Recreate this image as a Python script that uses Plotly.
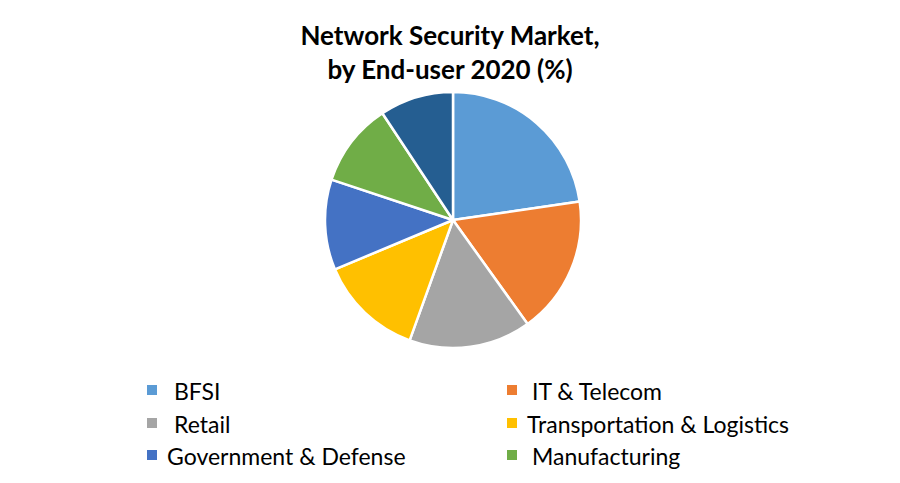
import plotly.graph_objects as go

# page body has an 8px margin, so the figure is drawn 8px in from the top-left
OFF = 8
W, H = 900 - OFF, 483 - OFF

labels = ["BFSI", "IT & Telecom", "Retail", "Transportation & Logistics",
          "Government & Defense", "Manufacturing", "Others"]
values = [22.7, 17.4, 15.4, 13.2, 11.4, 10.6, 9.3]
colors = ["#5B9BD5", "#ED7D31", "#A5A5A5", "#FFC000", "#4472C4", "#70AD47", "#255E91"]

legend_labels = labels[:6]


def px(x):
    return (x - OFF) / W


def py(y):
    return 1 - (y - OFF) / H


# pie geometry (screen pixels)
cx, cy, r = 453, 220, 128

fig = go.Figure()
fig.add_trace(go.Pie(
    labels=labels, values=values, sort=False, direction="clockwise", rotation=0,
    marker=dict(colors=colors, line=dict(color="white", width=2.5)),
    textinfo="none", showlegend=False,
    domain=dict(x=[px(cx - r), px(cx + r)], y=[py(cy + r), py(cy - r)]),
))

# manual legend: 3 rows x 2 columns
col_sq = [147, 507]
col_tx = [[172, 530], [172, 525], [165, 530]]
rows = [390, 423, 455]
shapes = []
annotations = []
for i, lab in enumerate(legend_labels):
    row, col = divmod(i, 2)
    y = rows[row]
    x0 = col_sq[col]
    shapes.append(dict(type="rect", xref="paper", yref="paper",
                       x0=px(x0), x1=px(x0 + 10),
                       y0=py(y + 5), y1=py(y - 5),
                       fillcolor=colors[i], line=dict(width=0)))
    annotations.append(dict(text=lab, xref="paper", yref="paper",
                            x=px(col_tx[row][col]), y=py(y + 1),
                            xanchor="left", yanchor="middle", showarrow=False,
                            font=dict(family="Lato", size=23, color="#000000")))

fig.update_layout(
    width=W, height=H,
    margin=dict(l=0, r=0, t=0, b=0),
    paper_bgcolor="white", plot_bgcolor="white",
    title=dict(text="<b>Network Security Market,<br>by End-user 2020 (%)</b>",
               x=px(450), xanchor="center", y=py(45), yanchor="middle",
               font=dict(family="Lato", size=26, color="#000000")),
    shapes=shapes, annotations=annotations,
)

fig.write_html("out.html")
